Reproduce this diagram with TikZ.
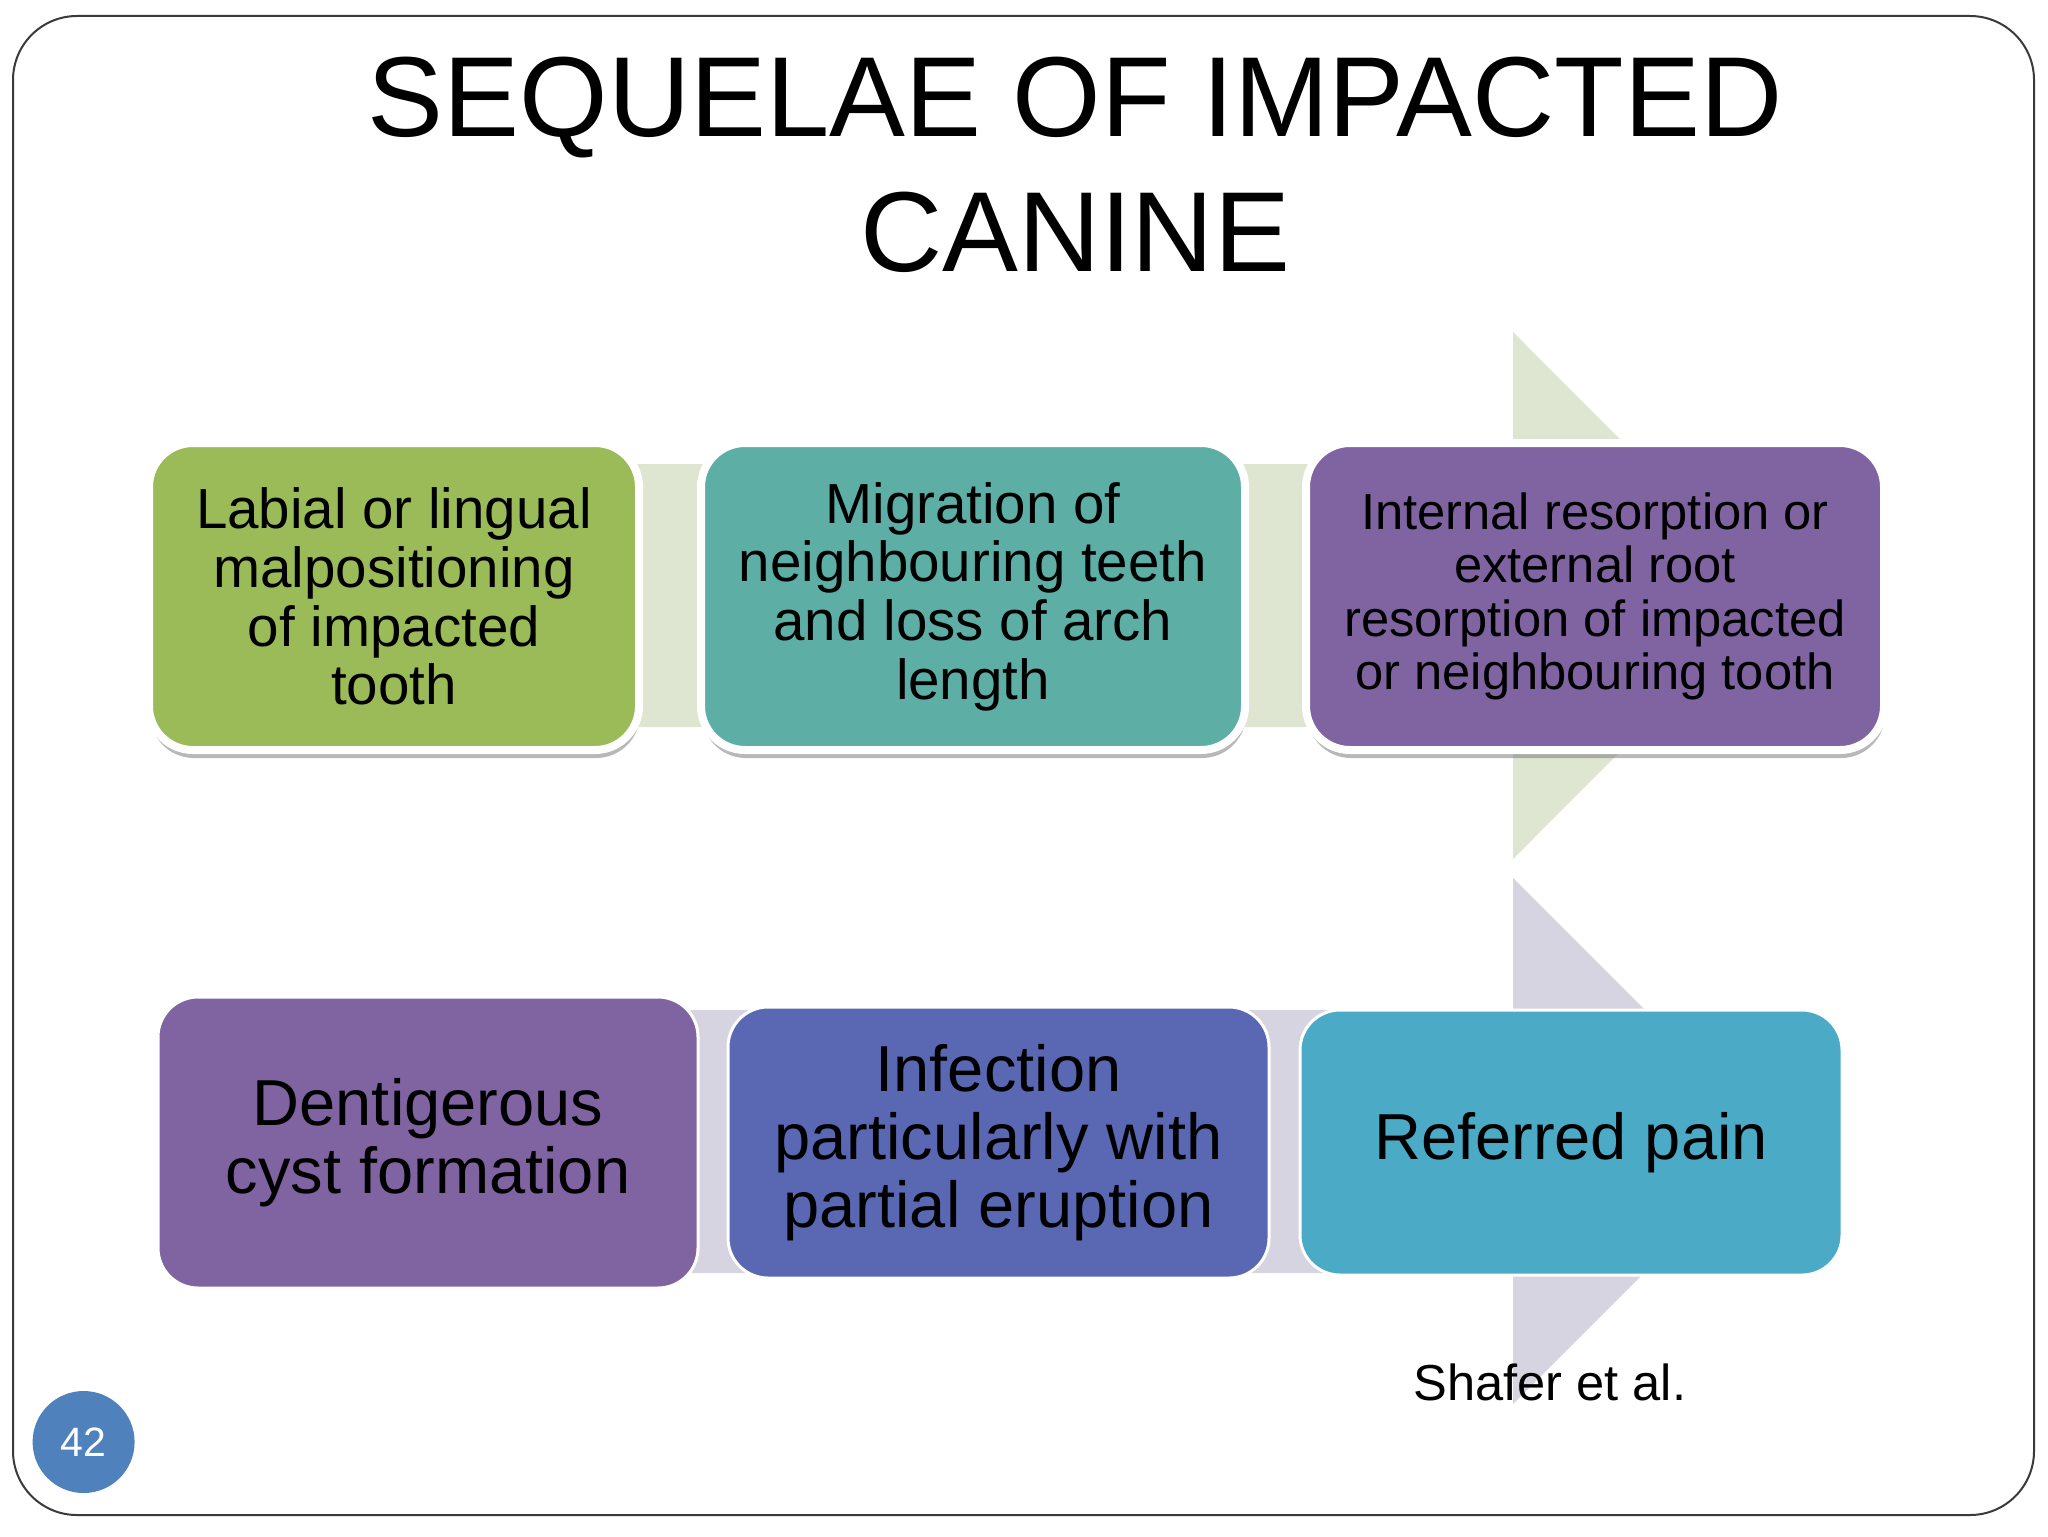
\documentclass[tikz,border=0pt]{standalone}
\usepackage{fontspec}
\setmainfont{Liberation Sans}
\usetikzlibrary{shadows}
\definecolor{cgreen}{HTML}{9BBB59}
\definecolor{cteal}{HTML}{5DAFA6}
\definecolor{cpurple}{HTML}{8064A2}
\definecolor{cblue}{HTML}{5A68B3}
\definecolor{ccyan}{HTML}{4BABC7}
\definecolor{bandgreen}{HTML}{DEE5D1}
\definecolor{bandlav}{HTML}{D7D4E2}
\definecolor{cnum}{HTML}{4F81BD}
\definecolor{cframe}{HTML}{3A3A3A}
\begin{document}
\begin{tikzpicture}[x=0.5pt,y=-0.5pt,
  topbox/.style={rectangle, rounded corners=22pt, draw=white, line width=4pt,
    drop shadow={shadow xshift=0.5pt, shadow yshift=-4pt, opacity=0.5, fill=black!55},
    align=center, text=black, inner sep=0pt,
    minimum height=153.5pt, font=\fontsize{28.25pt}{29.35pt}\selectfont},
  botbox/.style={rectangle, rounded corners=20pt, draw=white, line width=1.5pt,
    align=center, text=black, inner sep=0pt,
    font=\fontsize{32.5pt}{34pt}\selectfont}
]
\useasboundingbox (0,0) rectangle (2048,1536);
\fill[white] (0,0) rectangle (2048,1536);
\draw[cframe, line width=1pt, rounded corners=32pt] (13,16) rectangle (2034,1515);

% title
\node[anchor=base, font=\fontsize{56.9pt}{68pt}\selectfont] (t1) at (1075,136) {SEQUELAE OF IMPACTED};
\node[anchor=base, font=\fontsize{56.9pt}{68pt}\selectfont] (t2) at (1075,271) {CANINE};

% arrows
\fill[bandgreen] (200,464) -- (1513,464) -- (1513,332) -- (1776,595.5) -- (1513,859) -- (1513,727) -- (200,727) -- cycle;
\fill[bandlav] (200,1010) -- (1513,1010) -- (1513,878) -- (1776,1141) -- (1513,1404) -- (1513,1273) -- (200,1273) -- cycle;

% top row
\node[topbox, fill=cgreen, minimum width=245pt] (b1) at (394,596.5)
  {Labial or lingual\\malpositioning\\of impacted\\tooth};
\node[topbox, fill=cteal, minimum width=272pt] (b2) at (973,596.5)
  {Migration of\\neighbouring teeth\\and loss of arch\\length};
\node[topbox, fill=cpurple, minimum width=289pt, font=\fontsize{25.35pt}{26.75pt}\selectfont] (b3) at (1595,596.5)
  {Internal resorption or\\external root\\resorption of impacted\\or neighbouring tooth};

% bottom row
\node[botbox, fill=cpurple, minimum width=270pt, minimum height=145.5pt] (b4) at (428,1142.5)
  {Dentigerous\\cyst formation};
\node[botbox, fill=cblue, minimum width=270.5pt, minimum height=135.5pt] (b5) at (998.5,1142.5)
  {Infection\\particularly with\\partial eruption};
\node[botbox, fill=ccyan, minimum width=271pt, minimum height=132.5pt] (b6) at (1571,1142.5)
  {Referred pain};

% source
\node[anchor=base west, inner sep=0pt, font=\fontsize{25.3pt}{30pt}\selectfont] (src) at (1413,1400) {Shafer et al.};

% page number
\node[circle, fill=cnum, minimum size=51pt, inner sep=0pt, text=white, font=\fontsize{20.5pt}{24pt}\selectfont] (pg) at (83.6,1442) {42};
\end{tikzpicture}
\end{document}
